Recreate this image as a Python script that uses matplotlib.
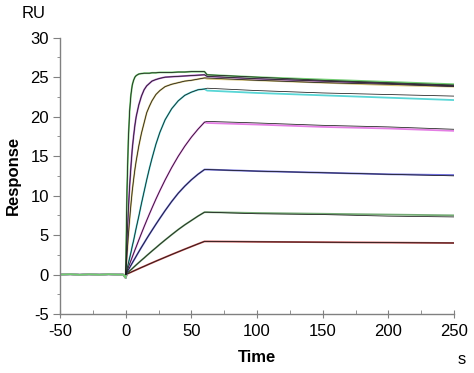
import numpy as np
import matplotlib
matplotlib.use("Agg")
import matplotlib.pyplot as plt
from matplotlib.ticker import MultipleLocator

plt.rcParams['font.family'] = ['Liberation Sans', 'DejaVu Sans']
plt.rcParams['axes.unicode_minus'] = False

# ---------------------------------------------------------------------------
# Data (RU vs s), lowest to highest concentration
# ---------------------------------------------------------------------------
t_base = [-50, -42, -35, -28, -20, -13, -6, -2, 0]
r_base = [0.0, 0.05, -0.03, 0.04, -0.02, 0.05, 0.0, 0.0, -0.4]

t_assoc = [0, 1, 2, 3, 4, 5, 6, 7, 8, 10, 12, 14, 16, 18, 20,
           23, 26, 30, 35, 40, 45, 50, 55, 60]
t_diss = [60, 62, 100, 150, 200, 250]

assoc = [
    [0, 0.075, 0.15, 0.225, 0.30, 0.375, 0.45, 0.525, 0.60, 0.75, 0.90, 1.04, 1.19, 1.34, 1.48,
     1.70, 1.91, 2.19, 2.54, 2.88, 3.22, 3.55, 3.88, 4.2],
    [0, 0.155, 0.31, 0.46, 0.61, 0.76, 0.92, 1.07, 1.22, 1.52, 1.82, 2.10, 2.40, 2.69, 2.98,
     3.40, 3.83, 4.38, 5.05, 5.70, 6.30, 6.85, 7.40, 7.9],
    [0, 0.30, 0.60, 0.89, 1.18, 1.47, 1.76, 2.04, 2.33, 2.90, 3.46, 4.00, 4.55, 5.08, 5.60,
     6.37, 7.12, 8.10, 9.25, 10.30, 11.20, 12.00, 12.70, 13.3],
    [0, 0.45, 0.90, 1.34, 1.78, 2.22, 2.66, 3.10, 3.52, 4.38, 5.22, 6.05, 6.86, 7.65, 8.42,
     9.55, 10.62, 11.98, 13.55, 14.98, 16.26, 17.40, 18.40, 19.3],
    [0, 0.7, 1.4, 2.1, 2.8, 3.6, 4.3, 5.1, 5.9, 7.4, 9.0, 10.5, 12.0, 13.4, 14.7,
     16.5, 18.0, 19.6, 21.0, 22.0, 22.7, 23.1, 23.4, 23.5],
    [0, 2.5, 4.9, 7.0, 8.9, 10.6, 12.0, 13.3, 14.4, 16.3, 17.9, 19.2, 20.5, 21.3, 22.0,
     22.8, 23.3, 23.8, 24.1, 24.3, 24.5, 24.6, 24.75, 24.9],
    [0, 4.4, 8.1, 11.2, 13.7, 15.9, 17.5, 18.9, 20.0, 21.5, 22.6, 23.4, 23.9, 24.2, 24.5,
     24.7, 24.85, 25.0, 25.05, 25.1, 25.15, 25.2, 25.25, 25.3],
    [0, 10.7, 17.0, 20.7, 22.8, 24.0, 24.6, 25.0, 25.2, 25.4, 25.45, 25.5, 25.5, 25.5, 25.55,
     25.55, 25.6, 25.6, 25.6, 25.65, 25.65, 25.7, 25.7, 25.7],
]
diss = [
    [4.2, 4.2, 4.15, 4.1, 4.05, 4.0],
    [7.9, 7.9, 7.8, 7.7, 7.6, 7.5],
    [13.3, 13.3, 13.1, 12.9, 12.7, 12.6],
    [19.3, 19.2, 19.0, 18.7, 18.5, 18.2],
    [23.5, 23.3, 23.0, 22.7, 22.4, 22.1],
    [24.9, 24.8, 24.6, 24.3, 24.0, 23.8],
    [25.3, 25.1, 24.8, 24.5, 24.2, 23.9],
    [25.7, 25.3, 25.0, 24.7, 24.4, 24.1],
]
fit_diss = [
    [4.2, 4.2, 4.15, 4.1, 4.05, 4.0],
    [7.9, 7.9, 7.7, 7.6, 7.4, 7.3],
    [13.3, 13.3, 13.1, 12.9, 12.7, 12.5],
    [19.4, 19.4, 19.2, 18.9, 18.7, 18.4],
    [23.6, 23.6, 23.3, 23.0, 22.8, 22.6],
    [25.0, 24.9, 24.6, 24.3, 24.1, 23.8],
    [25.2, 25.1, 24.8, 24.5, 24.2, 23.9],
    [25.4, 25.3, 25.0, 24.6, 24.3, 24.0],
]
colors = ['#c04848', '#74aa74', '#6c6cdc', '#e47ee4',
          '#58d6d6', '#d6c47a', '#b468cc', '#72cc72']

# ---------------------------------------------------------------------------
# Plot
# ---------------------------------------------------------------------------
fig = plt.figure(figsize=(4.74, 3.73), dpi=100)
ax = fig.add_axes([0.1266, 0.158, 0.8314, 0.741])

for a, d, fd, c in zip(assoc, diss, fit_diss, colors):
    t = t_base + t_assoc[1:] + t_diss[1:]
    r = r_base + a[1:] + d[1:]
    ax.plot(t, r, color=c, lw=1.3, zorder=2)
    ax.plot(t_assoc + t_diss[1:], a + fd[1:], color='#1a1a1a', lw=0.55, zorder=3)

ax.set_xlim(-50, 250)
ax.set_ylim(-5, 30)
ax.xaxis.set_major_locator(MultipleLocator(50))
ax.xaxis.set_minor_locator(MultipleLocator(25))
ax.yaxis.set_major_locator(MultipleLocator(5))
ax.yaxis.set_minor_locator(MultipleLocator(2.5))

for s in ['top', 'right']:
    ax.spines[s].set_visible(False)
for s in ['left', 'bottom']:
    ax.spines[s].set_color('#808080')
    ax.spines[s].set_linewidth(1.0)

ax.tick_params(axis='x', which='major', direction='inout', length=6, color='#808080',
               labelsize=12, pad=4)
ax.tick_params(axis='x', which='minor', direction='in', length=3, color='#808080')
ax.tick_params(axis='y', which='major', direction='out', length=5, color='#808080',
               labelsize=12, pad=3)
ax.tick_params(axis='y', which='minor', direction='out', length=2.5, color='#808080')

ax.set_xlabel('Time', fontsize=12, fontweight='bold', labelpad=8)
ax.set_ylabel('Response', fontsize=12, fontweight='bold', labelpad=7)
fig.text(22 / 474, 1 - 14 / 373, 'RU', fontsize=12, va='center', ha='left')
fig.text(462 / 474, 1 - 360 / 373, 's', fontsize=12, va='center', ha='center')

fig.savefig('out.png', dpi=100, facecolor='white')
